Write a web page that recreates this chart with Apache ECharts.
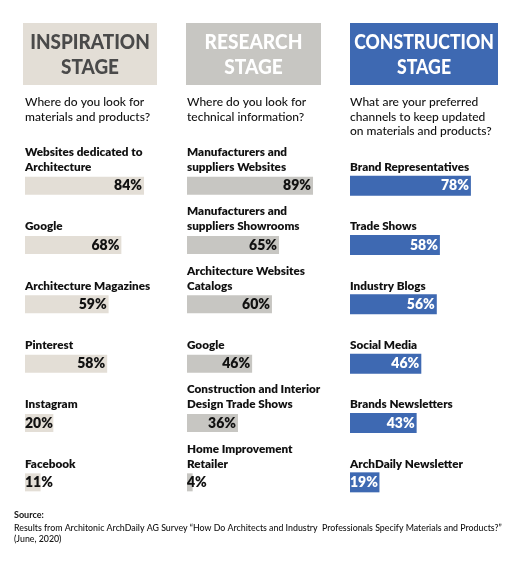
<!DOCTYPE html>
<html>
<head>
<meta charset="utf-8">
<script src="https://cdn.jsdelivr.net/npm/echarts@6/dist/echarts.min.js"></script>
<style>
  html, body { margin: 0; padding: 0; background: #fff; }
  #chart { width: 528px; height: 563px; }
</style>
</head>
<body>
<div id="chart"></div>
<script>
// stage headers and questions
var stageTitles = ['INSPIRATION\nSTAGE', 'RESEARCH\nSTAGE', 'CONSTRUCTION\nSTAGE'];
var stageQuestions = [
  'Where do you look for\nmaterials and products?',
  'Where do you look for\ntechnical information?',
  'What are your preferred\nchannels to keep updated\non materials and products?'
];

// inspiration stage
var inspirationLabels = ['Websites dedicated to\nArchitecture', 'Google', 'Architecture Magazines', 'Pinterest', 'Instagram', 'Facebook'];
var inspirationValues = [84, 68, 59, 58, 20, 11];

// research stage
var researchLabels = ['Manufacturers and\nsuppliers Websites', 'Manufacturers and\nsuppliers Showrooms', 'Architecture Websites\nCatalogs', 'Google', 'Construction and Interior\nDesign Trade Shows', 'Home Improvement\nRetailer'];
var researchValues = [89, 65, 60, 46, 36, 4];

// construction stage
var constructionLabels = ['Brand Representatives', 'Trade Shows', 'Industry Blogs', 'Social Media', 'Brands Newsletters', 'ArchDaily Newsletter'];
var constructionValues = [78, 58, 56, 46, 43, 19];

var FONT = 'Lato';
var colors = ['#e3ded6', '#c7c6c2', '#3e69b2'];
var headerText = ['#4a4a4a', '#ffffff', '#ffffff'];
var pctColors = ['#111', '#111', '#ffffff'];

// columns: left / bar scale width / header box
var cols = [
  { left: 25, width: 141.7, box: [23, 23, 134, 62], barH: 18, sx: 0.9 },
  { left: 187, width: 141.6, box: [186, 23, 135, 62], barH: 18, sx: 0.91 },
  { left: 350, width: 155, box: [350, 23, 148, 62], barH: 20, sx: 0.84 }
];
var allLabels = [inspirationLabels, researchLabels, constructionLabels];
var allValues = [inspirationValues, researchValues, constructionValues];

var grids = [], xAxes = [], yAxes = [], series = [], graphics = [];

cols.forEach(function (c, i) {
  grids.push({ left: c.left, top: 156, width: c.width, height: 356 });
  xAxes.push({ type: 'value', gridIndex: i, min: 0, max: 100, show: false });
  yAxes.push({
    type: 'category', gridIndex: i, inverse: true, data: allLabels[i],
    axisLine: { show: false }, axisTick: { show: false }, splitLine: { show: false },
    axisLabel: {
      inside: true, margin: 0, align: 'left', verticalAlign: 'bottom',
      padding: [0, 0, 11, 0], lineHeight: 15,
      fontFamily: FONT, fontWeight: 800, fontSize: 11.7, color: '#111'
    }
  });
  series.push({
    type: 'bar', xAxisIndex: i, yAxisIndex: i, barWidth: c.barH,
    itemStyle: { color: colors[i] },
    label: {
      show: true, formatter: '{c}%', fontFamily: FONT, fontWeight: 800,
      fontSize: 14, color: pctColors[i]
    },
    data: allValues[i].map(function (v) {
      // short bars: label starts at the bar start
      return v <= 20
        ? { value: v, label: { position: 'insideLeft', distance: 0 } }
        : { value: v, label: { position: 'insideRight', distance: 2 } };
    })
  });

  // header box
  graphics.push({
    type: 'rect', shape: { x: c.box[0], y: c.box[1], width: c.box[2], height: c.box[3] },
    style: { fill: colors[i] }
  });
  graphics.push({
    type: 'text', x: c.box[0] + c.box[2] / 2, y: c.box[1] + c.box[3] / 2 + 1,
    scaleX: c.sx,
    style: {
      text: stageTitles[i], fill: headerText[i], font: '900 21px ' + FONT,
      align: 'center', verticalAlign: 'middle', lineHeight: 25
    }
  });
  // question
  graphics.push({
    type: 'text', x: c.left, y: 95,
    style: {
      text: stageQuestions[i], fill: '#111', font: '500 12px ' + FONT,
      verticalAlign: 'top', lineHeight: 14.5
    }
  });
});

// source note
graphics.push({
  type: 'text', x: 14, y: 511,
  style: { text: 'Source:', fill: '#111', font: 'bold 9px ' + FONT, verticalAlign: 'top' }
});
graphics.push({
  type: 'text', x: 14, y: 522,
  style: {
    text: 'Results from Architonic ArchDaily AG Survey \u201cHow Do Architects and Industry  Professionals Specify Materials and Products?\u201d\n(June, 2020)',
    fill: '#111', font: '500 8.8px ' + FONT, verticalAlign: 'top', lineHeight: 11.5
  }
});

var chart = echarts.init(document.getElementById('chart'));
chart.setOption({
  backgroundColor: '#ffffff',
  animation: false,
  grid: grids,
  xAxis: xAxes,
  yAxis: yAxes,
  series: series,
  graphic: graphics
});
</script>
</body>
</html>
